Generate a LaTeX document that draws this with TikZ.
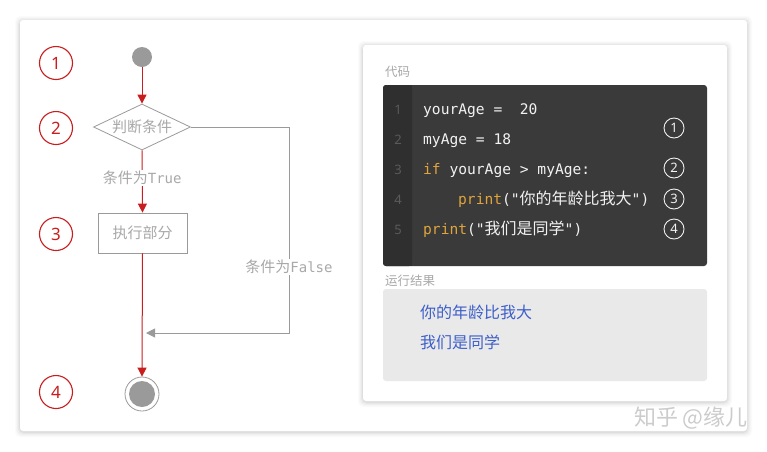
\documentclass[tikz,border=0pt]{standalone}
\usepackage{fontspec}
\setmainfont{Noto Sans}
\setmonofont{DejaVu Sans Mono}
\newfontfamily\cjk{Noto Sans CJK SC}
\usetikzlibrary{shapes.geometric,arrows.meta}
\definecolor{fred}{HTML}{C81E1E}
\definecolor{fgray}{HTML}{9A9A9A}
\definecolor{lgray}{HTML}{A8A8A8}
\definecolor{codebg}{HTML}{3A3A3A}
\definecolor{gutterc}{HTML}{2F2F2F}
\definecolor{lnum}{HTML}{5A5A5A}
\definecolor{kw}{HTML}{E0A43C}
\definecolor{codefg}{HTML}{F2F2F2}
\definecolor{resbg}{HTML}{E9E9E9}
\definecolor{resblue}{HTML}{3D5FC9}
\newcommand{\fs}[1]{\fontsize{#1}{#1}\selectfont}
\begin{document}
\begin{tikzpicture}[x=1pt,y=-1pt,
  stepnum/.style={circle,draw=fred,line width=1.1pt,minimum size=33pt,inner sep=0pt,text=fred,font=\fs{17}},
  codenum/.style={circle,draw=codefg,line width=0.9pt,minimum size=20pt,inner sep=0pt,text=codefg,font=\fs{13}},
  redarrow/.style={draw=fred,line width=1pt,-{Triangle[length=9pt,width=9pt]}},
  grayarrow/.style={draw=fgray,line width=0.9pt,-{Triangle[length=9pt,width=9pt]}},
  flowlabel/.style={fill=white,inner sep=1pt,text=lgray,font=\cjk\fs{15}},
  codeline/.style={anchor=base west,inner sep=0pt,text=codefg,font=\ttfamily\fs{14.6}},
  linenum/.style={anchor=base,inner sep=0pt,text=lnum,font=\fs{13}},
  cardlabel/.style={anchor=west,inner sep=0pt,text=lgray,font=\cjk\fs{12.5}},
  result/.style={anchor=west,inner sep=0pt,text=resblue,font=\cjk\fs{16}}
]
\useasboundingbox (0,0) rectangle (767,451);
\fill[white] (0,0) rectangle (767,451);
% outer card
\foreach \i/\o in {5/0.015,4/0.02,3/0.025,2/0.03,1/0.04}
  \fill[black,opacity=\o,rounded corners=5pt] (20-\i,21-\i) rectangle (747+\i,432+\i);
\fill[white,rounded corners=3pt] (20,20) rectangle (747,431);
% inner card
\foreach \i/\o in {5/0.015,4/0.02,3/0.025,2/0.03,1/0.04}
  \fill[black,opacity=\o,rounded corners=5pt] (363-\i,46-\i) rectangle (727+\i,402+\i);
\fill[white,rounded corners=3pt] (363,45) rectangle (727,401);

% step numbers
\node[stepnum] (n1) at (56,63) {1};
\node[stepnum] (n2) at (56,128) {2};
\node[stepnum] (n3) at (56,234) {3};
\node[stepnum] (n4) at (56,392) {4};

% flowchart
\node[circle,fill=fgray,minimum size=20pt,inner sep=0pt] (start) at (142,57) {};
\node[diamond,draw=fgray,line width=0.8pt,minimum width=97pt,minimum height=46pt,inner sep=0pt,aspect=2.1,text=lgray,font=\cjk\fs{15}] (cond) at (142,127) {判断条件};
\node[draw=fgray,line width=0.8pt,minimum width=89pt,minimum height=40pt,inner sep=0pt,text=lgray,font=\cjk\fs{15}] (exec) at (142.5,233) {执行部分};
\node[circle,draw=fgray,line width=0.8pt,minimum size=34pt,inner sep=0pt] (end) at (142,394) {};
\node[circle,fill=fgray,minimum size=26pt,inner sep=0pt] (endin) at (end) {};

\draw[redarrow] (start) -- (cond.north);
\draw[redarrow] (cond.south) -- node[flowlabel,pos=0.44] (tl) {条件为{\ttfamily\fs{14}True}} (exec.north);
\draw[redarrow] (exec.south) -- (end.north);
\coordinate (fcorner) at (289,333);
\coordinate (merge) at (146,333);
\draw[grayarrow] (cond.east) -| (fcorner) -- (merge);
\node[flowlabel] (fl) at (289,267) {条件为{\ttfamily\fs{14}False}};

% code panel
\node[cardlabel] (lbcode) at (385,72) {代码};
\fill[codebg,rounded corners=3pt] (383,85) rectangle (707,266);
\fill[gutterc,rounded corners=3pt] (383,85) rectangle (412,266);
\fill[gutterc] (405,85) rectangle (412,266);
\node[linenum] (l1) at (398,114) {1};
\node[linenum] (l2) at (398,144) {2};
\node[linenum] (l3) at (398,174) {3};
\node[linenum] (l4) at (398,204) {4};
\node[linenum] (l5) at (398,234) {5};
\node[codeline] (c1) at (423,114) {yourAge =~ 20};
\node[codeline] (c2) at (423,144) {myAge = 18};
\node[codeline] (c3) at (423,174) {\textcolor{kw}{if} yourAge > myAge:};
\node[codeline] (c4) at (458,204) {\textcolor{kw}{print}("{\cjk\fs{16}你的年龄比我大}")};
\node[codeline] (c5) at (423,234) {\textcolor{kw}{print}("{\cjk\fs{16}我们是同学}")};
\node[codenum] (k1) at (674,128) {1};
\node[codenum] (k2) at (674,168) {2};
\node[codenum] (k3) at (674,199) {3};
\node[codenum] (k4) at (674,229) {4};

% result panel
\node[cardlabel] (lbres) at (385,281) {运行结果};
\fill[resbg,rounded corners=3pt] (383,289) rectangle (707,381);
\node[result] (r1) at (420,312) {你的年龄比我大};
\node[result] (r2) at (420,342) {我们是同学};

% watermark
\node[anchor=east,inner sep=0pt,text=black!20,font=\cjk\fs{22}] (wm) at (748,418) {知乎 @缘儿};
\end{tikzpicture}
\end{document}
